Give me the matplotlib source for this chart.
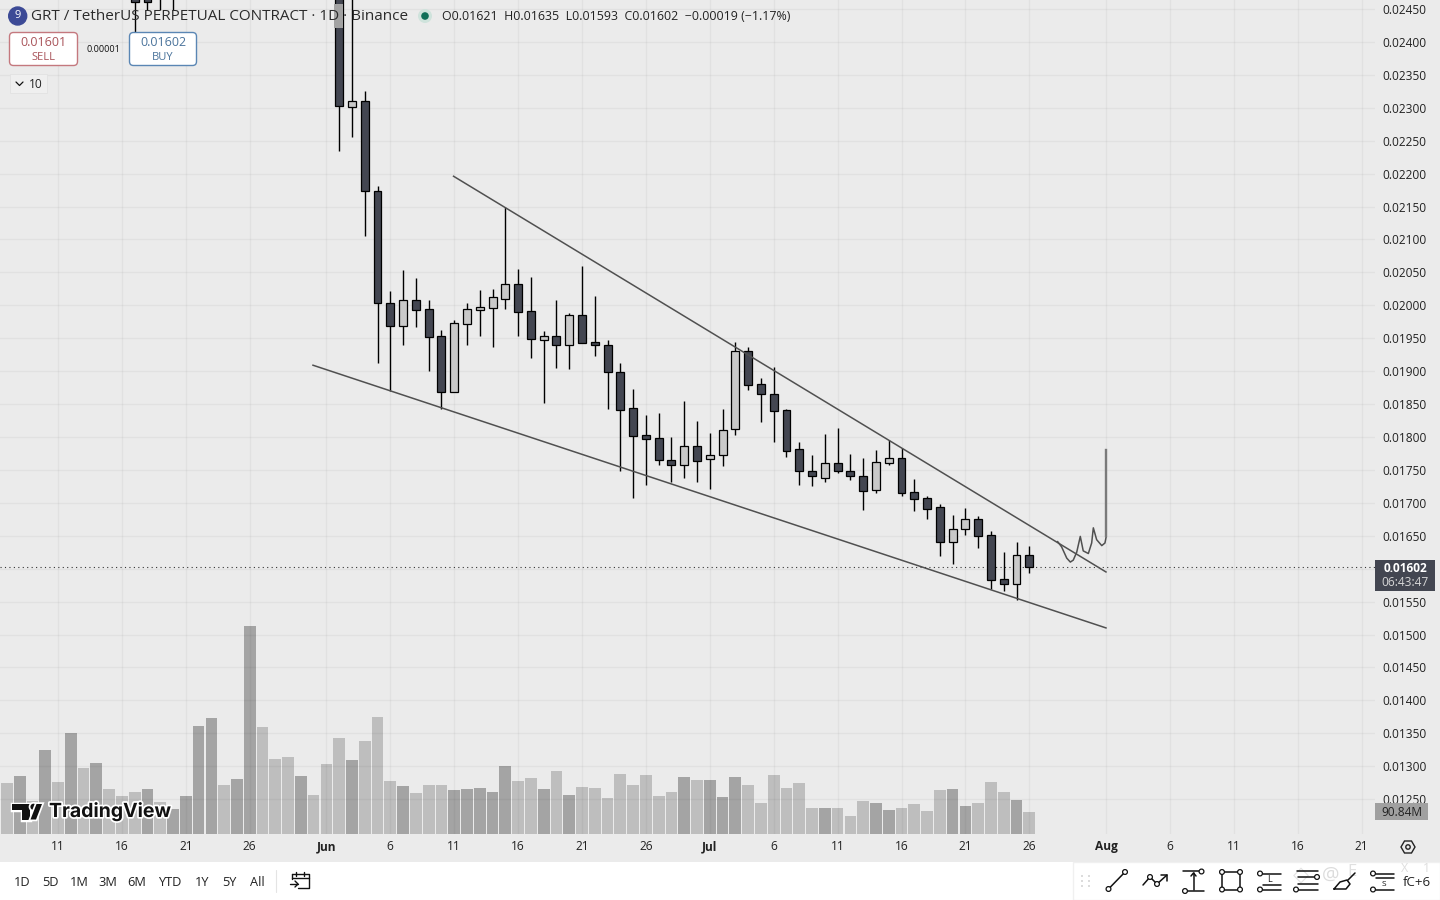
"""GRT/USDT daily candles with a falling wedge, TradingView style, in greys."""
import matplotlib

matplotlib.use("Agg")

import matplotlib.patheffects as pe
import matplotlib.pyplot as plt
import numpy as np
from matplotlib.patches import Circle, FancyBboxPatch, Polygon, Rectangle

# day numbers count from 1 June; prices are in units of 0.00001
candle_days = [-15, -14, -13, -12] + list(range(1, 56))
opens = [2500, 2500, 2500, 2500,
         2480, 2301, 2310, 2174, 2003, 1969, 2008, 1994, 1954, 1869,
         1972, 1993, 1996, 2010, 2032, 1992, 1948, 1954, 1940, 1985,
         1945, 1939, 1898, 1844, 1803, 1798, 1765, 1758, 1787, 1766,
         1772, 1812, 1930, 1880, 1865, 1841, 1781, 1749, 1738, 1760,
         1749, 1740, 1720, 1761, 1768, 1716, 1707, 1693, 1641, 1660,
         1675, 1651, 1584, 1577, 1621]
closes = [2461, 2461, 2480, 2480,
          2302, 2310, 2174, 2004, 1969, 2008, 1993, 1952, 1869, 1973,
          1994, 1997, 2012, 2032, 1990, 1949, 1953, 1940, 1985, 1943,
          1939, 1899, 1841, 1802, 1797, 1765, 1758, 1787, 1764, 1772,
          1810, 1930, 1879, 1866, 1840, 1779, 1749, 1741, 1760, 1749,
          1741, 1718, 1762, 1768, 1715, 1706, 1691, 1641, 1661, 1675,
          1650, 1583, 1577, 1620, 1602]
highs = [2520, 2520, 2520, 2520,
         2520, 2470, 2325, 2181, 2022, 2054, 2041, 2008, 1962, 1978,
         2004, 2023, 2025, 2149, 2055, 2043, 1961, 2008, 1988, 2059,
         2014, 1947, 1912, 1873, 1833, 1837, 1800, 1855, 1825, 1806,
         1843, 1945, 1936, 1890, 1907, 1842, 1793, 1773, 1805, 1814,
         1774, 1768, 1780, 1795, 1784, 1736, 1710, 1698, 1681, 1692,
         1680, 1657, 1625, 1640, 1635]
lows = [2415, 2448, 2448, 2448,
        2234, 2256, 2105, 1913, 1870, 1939, 1967, 1900, 1842, 1869,
        1939, 1954, 1937, 1994, 1954, 1920, 1852, 1905, 1903, 1942,
        1923, 1842, 1749, 1708, 1727, 1757, 1731, 1738, 1731, 1721,
        1756, 1803, 1871, 1823, 1793, 1769, 1727, 1726, 1731, 1746,
        1734, 1689, 1715, 1757, 1711, 1687, 1675, 1619, 1607, 1651,
        1632, 1569, 1566, 1553, 1593]

volume_days = list(range(-25, 56))
volumes = [208, 238, 135, 346, 214, 416, 271, 292, 185, 156,
           172, 185, 131, 102, 156, 445, 478, 201, 226, 858,
           441, 309, 317, 238, 160, 288, 395, 304, 383, 482,
           218, 197, 168, 201, 201, 180, 185, 189, 172, 280,
           218, 231, 183, 258, 158, 191, 187, 145, 246, 199,
           242, 154, 170, 233, 221, 221, 150, 233, 199, 126,
           242, 187, 208, 107, 107, 107, 74, 133, 128, 99,
           107, 120, 91, 179, 183, 112, 128, 212, 170, 137, 90.84]
volume_up_days = [-24, -22, -20, -18, -14, -12, -11, -10, -9, -7, -6, -2, 2, 6,
                  10, 11, 12, 13, 14, 17, 19, 28, 30, 31, 32, 39, 43, 44, 49, 50, 54]

upper_line_days = [9.95, 61.0]
upper_line_prices = [2196, 1595]
lower_line_days = [-1.05, 61.0]
lower_line_prices = [1909, 1510]
sketch_days = [57.22, 57.53, 57.93, 58.21, 58.44, 58.71, 58.99, 59.22,
               59.62, 59.88, 60.01, 60.27, 60.67, 60.92, 61.02, 61.02]
sketch_prices = [1641, 1633, 1616, 1610, 1613, 1625, 1649, 1627,
                 1623, 1639, 1662, 1644, 1635, 1639, 1649, 1780]

last_price = 1602
date_ticks = [-21, -16, -11, -6, 0, 5, 10, 15, 20, 25, 30, 35, 40, 45, 50, 55,
              61, 66, 71, 76, 81]
date_labels = ["11", "16", "21", "26", "Jun", "6", "11", "16", "21", "26", "Jul",
               "6", "11", "16", "21", "26", "Aug", "6", "11", "16", "21"]
range_labels = ["1D", "5D", "1M", "3M", "6M", "YTD", "1Y", "5Y", "All"]
range_x = [22, 50, 79, 108, 137, 170, 202, 229, 257]

BG = "#ebebeb"
DARK = "#434651"
LIGHT = "#c9c9c9"
FONT = "Open Sans"

plt.rcParams["font.family"] = [FONT, "DejaVu Sans"]

fig = plt.figure(figsize=(14.4, 9), dpi=100, facecolor=BG)
rect = [0, 66 / 900, 1375 / 1440, 834 / 900]
ax = fig.add_axes(rect)
ax_vol = ax.twinx()
ax.set_zorder(2)
ax.patch.set_visible(False)
ax_vol.set_zorder(1)
ax_vol.set_facecolor(BG)

# volume pane
vol_colors = ["#a4a4a4" if d in volume_up_days else "#bebebe" for d in volume_days]
ax_vol.bar(volume_days, volumes, width=0.92, color=vol_colors, linewidth=0)
ax_vol.set_ylim(-2, 3444)
ax_vol.set_yticks([])

# price pane
o = np.array(opens) / 1e5
c = np.array(closes) / 1e5
h = np.array(highs) / 1e5
l = np.array(lows) / 1e5
colors = [LIGHT if b >= a else DARK for a, b in zip(o, c)]
ax.vlines(candle_days, l, h, color="black", linewidth=1.0, zorder=3)
ax.bar(candle_days, np.abs(c - o), bottom=np.minimum(o, c), width=0.62,
       color=colors, edgecolor="black", linewidth=0.9, zorder=4)

ax.plot(upper_line_days, np.array(upper_line_prices) / 1e5, color="#505050", lw=1.1, zorder=5)
ax.plot(lower_line_days, np.array(lower_line_prices) / 1e5, color="#505050", lw=1.1, zorder=5)
ax.plot(sketch_days, np.array(sketch_prices) / 1e5, color="#505050", lw=1.1, zorder=5)
ax.plot(sketch_days[-2:], np.array(sketch_prices[-2:]) / 1e5, color="#7a7a7a", lw=1.7, zorder=5)
ax.axhline(last_price / 1e5, color="#333333", lw=0.8, ls=(0, (1, 3)), zorder=2)

ax.set_xlim(-25.54, 82.05)
ax.set_ylim(0.01197, 0.024637)
ax.set_xticks(date_ticks, date_labels, fontsize=8.6, color="#222222")
for tick_label, text in zip(ax.get_xticklabels(), date_labels):
    if not text.isdigit():
        tick_label.set_fontweight("bold")
price_ticks = np.arange(1250, 2451, 50)
ax.set_yticks(price_ticks / 1e5, [f"{p / 1e5:.5f}" for p in price_ticks],
              fontsize=8.6, color="#222222")
ax.yaxis.tick_right()
ax.tick_params(axis="both", length=0)
ax.tick_params(axis="x", pad=4.6)
ax.tick_params(axis="y", pad=5.6)
ax.get_yticklabels()[list(price_ticks).index(1600)].set_visible(False)
ax.grid(True, color="black", alpha=0.04, linewidth=1.0)
ax.set_axisbelow(True)
for axis in (ax, ax_vol):
    for spine in axis.spines.values():
        spine.set_visible(False)

# interface chrome, in screen pixels
ui = fig.add_axes([0, 0, 1, 1], zorder=5)
ui.set_xlim(0, 1440)
ui.set_ylim(900, 0)
ui.axis("off")


def label(x, y, s, size=8.6, color="#222222", ha="center", **kw):
    return ui.text(x, y, s, fontsize=size, color=color, ha=ha, va="center", **kw)


def seg(*pts, lw=1.1, color="#111111"):
    xs, ys = zip(*pts)
    ui.plot(xs, ys, color=color, lw=lw, solid_capstyle="round")


def node(x, y, r=2.4):
    ui.add_patch(Circle((x, y), r, fc="white", ec="#111111", lw=0.9, zorder=4))


ui.add_patch(Rectangle((334, 4), 9, 24, color="#a2a2a2", lw=0))
ui.add_patch(Circle((17.7, 16), 9, color="#3c4a96"))
label(18, 15, "9", size=8, color="white")
label(31, 17, "GRT / TetherUS PERPETUAL CONTRACT · 1D · Binance", size=11, ha="left", color="#2b2b2b")
ui.add_patch(Circle((425, 16), 7, color="#cfe3dc", lw=0))
ui.add_patch(Circle((425, 16), 3.8, color="#0f6f58", lw=0))
label(442, 17, "O0.01621  H0.01635  L0.01593  C0.01602  −0.00019 (−1.17%)", size=8.9, ha="left")

for x0, w, edge, tc, price, side in [(9.5, 68, "#c4787e", "#a9545a", "0.01601", "SELL"),
                                     (129.5, 67, "#5a86b4", "#4a739b", "0.01602", "BUY")]:
    ui.add_patch(FancyBboxPatch((x0, 32.5), w, 33, boxstyle="round,pad=0,rounding_size=4",
                                fc="white", ec=edge, lw=1))
    label(x0 + w / 2, 42, price, size=9, color=tc)
    label(x0 + w / 2, 57, side, size=8, color=tc)
label(103, 49, "0.00001", size=6.6, color="#111111")
ui.add_patch(Rectangle((10, 74), 37, 19, fc="#efefef", ec="#e2e2e2", lw=0.6))
seg((16, 82), (19.5, 85.5), (23, 82), lw=0.9)
label(36, 84, "10", size=8.6)

# last price and volume tags
ui.add_patch(Rectangle((1375, 560), 60, 31, color="#434651", lw=0))
label(1405, 569, "0.01602", size=8.6, color="white", fontweight="bold")
label(1405, 583, "06:43:47", size=8.6, color="#d8d8d8")
ui.add_patch(Rectangle((1375, 803), 53, 17, color="#a0a0a0", lw=0))
label(1402, 812, "90.84M", size=8.6, color="#222222")

# watermark
label(49, 811.5, "TradingView", size=14, ha="left", color="#111111", fontweight="bold", family="Inter",
      path_effects=[pe.withStroke(linewidth=2.5, foreground="white")])
halo = [pe.withStroke(linewidth=2.5, foreground="white")]
ui.add_patch(Polygon([(12, 804), (30, 804), (30, 819.5), (21.5, 819.5), (21.5, 810), (12, 810)],
                     color="#111111", lw=0, path_effects=halo))
ui.add_patch(Circle((33.5, 806.8), 3.1, color="#111111", lw=0, path_effects=halo))
ui.add_patch(Polygon([(36.5, 804), (42, 804), (36, 819.5), (30.5, 819.5)],
                     color="#111111", lw=0, path_effects=halo))

# settings cog
ui.add_patch(Polygon([(1401, 847), (1404.5, 841), (1411.5, 841), (1415, 847), (1411.5, 853), (1404.5, 853)],
                     fc="none", ec="#222222", lw=1))
ui.add_patch(Circle((1408, 847), 2.2, fc="none", ec="#222222", lw=1))

# bottom bar
ui.add_patch(Rectangle((0, 862), 1440, 38, color="white", lw=0, zorder=0))
for x, s in zip(range_x, range_labels):
    label(x, 882, s, size=9.2)
seg((276, 870), (276, 892), color="#e4e4e4", lw=0.8)
seg((296, 874), (309, 874), (309, 888), (298, 888), lw=1)
seg((292, 874), (296, 874), lw=1)
seg((292, 874), (292, 879), lw=1)
seg((292, 878), (309, 878), lw=1)
seg((296, 871.5), (296, 876), lw=1)
seg((304, 871.5), (304, 876), lw=1)
seg((290, 884), (298, 884), lw=1)
seg((295, 881), (298, 884), (295, 887), lw=1)

# drawing toolbar
ui.add_patch(Rectangle((1073, 862), 367, 38, fc="white", ec="#f0f0f0", lw=1, zorder=0))
for x in (1082, 1089):
    for y in (876, 881, 886):
        ui.add_patch(Circle((x, y), 0.8, color="#bbbbbb", lw=0))
# faint repost stamp behind the tools
label(1301, 875, "◇", size=15, color="#e2e2e2", family="DejaVu Sans", zorder=0)
label(1331, 875, "@", size=14, color="#dcdcdc", zorder=0)
label(1352, 872, "E", size=12, color="#e0e0e0", zorder=0)
label(1405, 868, "X", size=9, color="#dedede", zorder=0)
label(1426, 868, "1", size=9, color="#dedede", zorder=0)

seg((1108.5, 889), (1125, 872))
node(1108.5, 889)
node(1125, 872)
seg((1143, 885), (1150, 877), (1157, 884), (1167, 875))
seg((1161, 875), (1167, 875), (1167, 881))
node(1150, 877)
node(1157, 884)
seg((1183, 871), (1199, 871))
node(1201.5, 871.5)
seg((1188, 891), (1204, 891))
node(1185, 891)
seg((1193.5, 890), (1193.5, 873))
seg((1191, 876), (1193.5, 873), (1196, 876))
seg((1222, 872), (1240, 872), (1240, 889.5), (1222, 889.5), (1222, 872))
for x in (1222, 1240):
    for y in (872, 889.5):
        node(x, y)
seg((1263, 873.5), (1281, 873.5))
node(1260, 873.5)
label(1269.5, 879, "L", size=6.5, color="#111111")
seg((1263, 884.5), (1281, 884.5))
seg((1263, 889.5), (1281, 889.5))
node(1260, 889.5)
seg((1297, 871), (1318, 871))
seg((1298, 877), (1314, 877))
node(1317, 877)
seg((1298, 884), (1318, 884))
seg((1299, 889.5), (1318, 889.5))
node(1296, 889.5)
seg((1334, 889), (1340, 882), (1347, 880), (1350, 884), (1346, 889), (1334, 889))
seg((1348, 880), (1355, 873))
seg((1376, 873.5), (1394, 873.5))
node(1373, 873.5)
seg((1376, 878), (1394, 878))
label(1384, 884, "S", size=6, color="#111111")
seg((1376, 889.5), (1394, 889.5))
node(1373, 889.5)
label(1417, 882, "fC+6", size=9.5, color="#222222")

fig.savefig("out.png", dpi=100, facecolor=BG)
